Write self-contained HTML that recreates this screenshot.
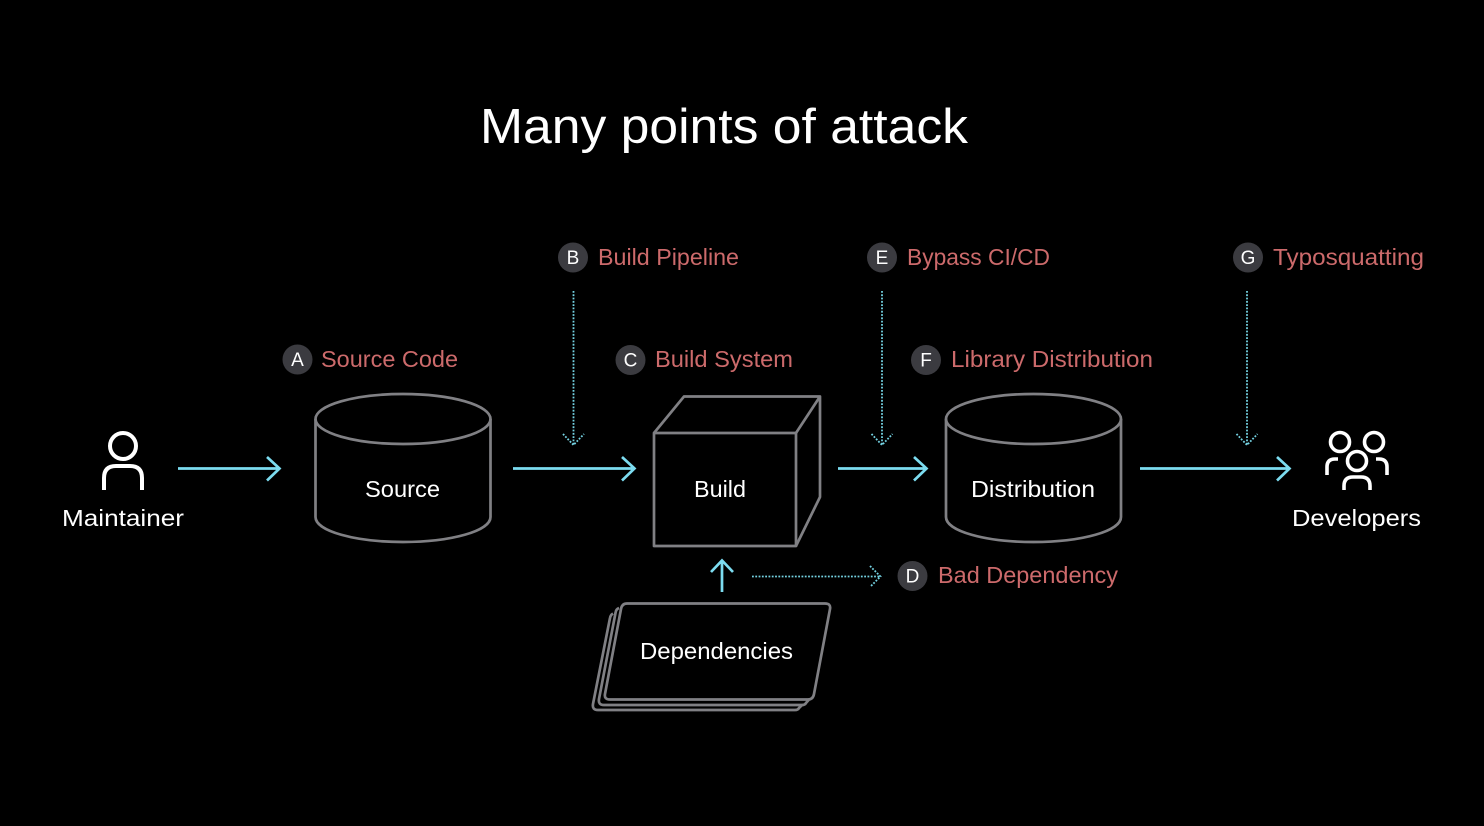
<!DOCTYPE html>
<html><head><meta charset="utf-8"><style>
html,body{margin:0;padding:0;background:#000;width:1484px;height:826px;overflow:hidden}
svg{display:block}
text{font-family:"Liberation Sans",sans-serif}
.t{fill:#fff;font-size:23px}
.r{fill:#cc6a6b;font-size:23px}
.b{fill:#fff;font-size:19px;text-anchor:middle}
.g{fill:none;stroke:#808084;stroke-width:2.700;stroke-linejoin:round}
.a{fill:none;stroke:#7cdcf0;stroke-width:2.700}
.d{fill:none;stroke:#74d2e2;stroke-width:1.800;stroke-dasharray:1.800 1.500}
.w{fill:none;stroke:#fff;stroke-width:4}
</style></head><body>
<svg width="1484" height="826" viewBox="0 0 1484 826" xmlns="http://www.w3.org/2000/svg">
<rect width="1484" height="826" fill="#000"/>
<text x="480" y="143" fill="#fff" font-size="49" textLength="488" lengthAdjust="spacingAndGlyphs">Many points of attack</text>

<!-- Maintainer -->
<circle cx="123" cy="446" r="13" class="w"/>
<path d="M104 490V478Q104 466 116 466H130Q142 466 142 478V490" class="w"/>
<text x="62" y="526" class="t" textLength="122" lengthAdjust="spacingAndGlyphs">Maintainer</text>

<!-- Cylinders -->
<g class="g">
<ellipse cx="403" cy="419" rx="87.500" ry="25"/>
<path d="M315.500 419V517C315.500 531 355 542 403 542S490.500 531 490.500 517V419"/>
<ellipse cx="1033.500" cy="419" rx="87.500" ry="25"/>
<path d="M946 419V517C946 531 985 542 1033.500 542S1121 531 1121 517V419"/>
</g>
<text x="365" y="497" class="t" textLength="75" lengthAdjust="spacingAndGlyphs">Source</text>
<text x="971" y="497" class="t" textLength="124" lengthAdjust="spacingAndGlyphs">Distribution</text>

<!-- Build cube -->
<g class="g">
<rect x="654" y="433" width="142" height="113"/>
<path d="M654 433L684 396.500H820L796 433M820 396.500V497L796 546"/>
</g>
<text x="694" y="497" class="t" textLength="52" lengthAdjust="spacingAndGlyphs">Build</text>

<!-- Dependencies stack -->
<g class="g">
<path d="M613 613.500Q610.500 615 610 618L593 704Q592 710 598 710H795Q798 710 799 708L802 705"/>
<path d="M619 608Q616 609 615.500 613L599 699Q598 705 604 705H802Q805 705 806 703L809 699.500"/>
<path d="M627 603.500H825Q831 603.500 830 609L814 694Q813 699.500 808 699.500H610Q604 699.500 605 694L621 609Q622 603.500 627 603.500Z" fill="#000"/>
</g>
<text x="640" y="659" class="t" textLength="153" lengthAdjust="spacingAndGlyphs">Dependencies</text>

<!-- Developers -->
<g fill="none" stroke="#fff" stroke-width="3.600">
<circle cx="1340" cy="442" r="9.500"/>
<circle cx="1374" cy="442" r="9.500"/>
<circle cx="1357" cy="461" r="9.500"/>
<path d="M1327 475V467Q1327 459 1335 459H1338"/>
<path d="M1387 475V467Q1387 459 1379 459H1376"/>
<path d="M1344 490V486Q1344 477 1353 477H1361Q1370 477 1370 486V490"/>
</g>
<text x="1292" y="526" class="t" textLength="129" lengthAdjust="spacingAndGlyphs">Developers</text>

<!-- Solid arrows -->
<g class="a">
<path d="M178 468.500H279M267 457L279.500 468.500L267 480.500"/>
<path d="M513 468.500H634M622 457L634.500 468.500L622 480.500"/>
<path d="M838 468.500H926M914 457L926.500 468.500L914 480.500"/>
<path d="M1140 468.500H1289M1277 457L1289.500 468.500L1277 480.500"/>
<path d="M722 592V561M711 572L722 560.500L733 572"/>
</g>

<!-- Dotted arrows -->
<g class="d">
<path d="M573.500 291V445M563 434L573.500 445L584 434"/>
<path d="M882 291V445M871.500 434L882 445L892.500 434"/>
<path d="M1247 291V445M1236.500 434L1247 445L1257.500 434"/>
<path d="M752 576.500H880M870 566L880.500 576.500L870 587"/>
</g>

<!-- Badges -->
<g fill="#3b3b40">
<circle cx="297.500" cy="359.500" r="15"/>
<circle cx="573" cy="257.500" r="15"/>
<circle cx="630.500" cy="360" r="15"/>
<circle cx="882" cy="257.500" r="15"/>
<circle cx="926" cy="360" r="15"/>
<circle cx="912.500" cy="576" r="15"/>
<circle cx="1248" cy="257.500" r="15"/>
</g>
<text x="297.500" y="366" class="b">A</text>
<text x="573" y="264" class="b">B</text>
<text x="630.500" y="366.500" class="b">C</text>
<text x="882" y="264" class="b">E</text>
<text x="926" y="366.500" class="b">F</text>
<text x="912.500" y="582.500" class="b">D</text>
<text x="1248" y="264" class="b">G</text>

<!-- Red labels -->
<text x="321" y="367" class="r" textLength="137" lengthAdjust="spacingAndGlyphs">Source Code</text>
<text x="598" y="265" class="r" textLength="141" lengthAdjust="spacingAndGlyphs">Build Pipeline</text>
<text x="655" y="367" class="r" textLength="138" lengthAdjust="spacingAndGlyphs">Build System</text>
<text x="907" y="265" class="r" textLength="143" lengthAdjust="spacingAndGlyphs">Bypass CI/CD</text>
<text x="951" y="367" class="r" textLength="202" lengthAdjust="spacingAndGlyphs">Library Distribution</text>
<text x="938" y="583" class="r" textLength="180" lengthAdjust="spacingAndGlyphs">Bad Dependency</text>
<text x="1273" y="265" class="r" textLength="151" lengthAdjust="spacingAndGlyphs">Typosquatting</text>
</svg>
</body></html>
